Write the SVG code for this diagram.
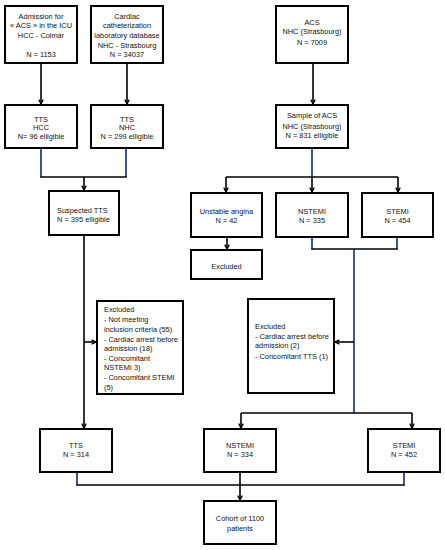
<svg xmlns="http://www.w3.org/2000/svg" width="445" height="550" viewBox="0 0 445 550">
<style>
.box{fill:#fff;stroke:#000;stroke-width:2}
.t{font-family:"Liberation Sans",Arial,sans-serif;font-size:7.4px;fill:#111;text-anchor:middle}
.l{text-anchor:start}
.k{fill:none;stroke:#000;stroke-width:1.6}
.b{fill:none;stroke:#1a2a6c;stroke-width:1.6}
</style>
<defs>
<marker id="ah" viewBox="0 0 10 10" refX="9" refY="5" markerWidth="5.5" markerHeight="5.5" orient="auto" markerUnits="userSpaceOnUse">
<path d="M1,1 L9,5 L1,9" fill="none" stroke="#000" stroke-width="2.4"/>
</marker>
</defs>
<rect width="445" height="550" fill="#fff"/>
<g id="connectors">
<path class="k" d="M41 63 V104" marker-end="url(#ah)"/>
<path class="k" d="M127 63 V104" marker-end="url(#ah)"/>
<path class="b" d="M41 148 V177 M126 148 V177"/>
<path class="k" d="M40.2 177 H126.8"/>
<path class="k" d="M84 177 V190" marker-end="url(#ah)"/>
<path class="k" d="M84 235 V428" marker-end="url(#ah)"/>
<path class="k" d="M84 342 H96" marker-end="url(#ah)"/>
<path class="k" d="M313 63 V104" marker-end="url(#ah)"/>
<path class="b" d="M312 148 V177"/>
<path class="k" d="M226 177 H398"/>
<path class="k" d="M226 177 V192" marker-end="url(#ah)"/>
<path class="k" d="M312 177 V192" marker-end="url(#ah)"/>
<path class="k" d="M398 177 V192" marker-end="url(#ah)"/>
<path class="k" d="M227 237 V249" marker-end="url(#ah)"/>
<path class="b" d="M312 237 V249 M397 237 V249"/>
<path class="k" d="M311.2 249 H397.8"/>
<path class="b" d="M354 249 V413"/>
<path class="k" d="M354 342 H335" marker-end="url(#ah)"/>
<path class="k" d="M241 413 H412"/>
<path class="k" d="M241 413 V428" marker-end="url(#ah)"/>
<path class="k" d="M412 413 V428" marker-end="url(#ah)"/>
<path class="b" d="M77 472 V485 M404 472 V485"/>
<path class="k" d="M76.2 485 H404.8"/>
<path class="k" d="M240 472 V500" marker-end="url(#ah)"/>
</g>
<g id="admission">
<rect class="box" x="5" y="6" width="72" height="57"/>
<text class="t" x="41" y="18.5">Admission for</text>
<text class="t" x="41" y="28.2">« ACS » in the ICU</text>
<text class="t" x="41" y="38.2">HCC - Colmar</text>
<text class="t" x="41" y="57.2">N = 1153</text>
</g>
<g id="cathlab">
<rect class="box" x="91" y="6" width="72" height="57"/>
<text class="t" x="127" y="18.5">Cardiac</text>
<text class="t" x="127" y="28.2">catheterization</text>
<text class="t" x="127" y="38.2">laboratory database</text>
<text class="t" x="127" y="47.8">NHC - Strasbourg</text>
<text class="t" x="127" y="57.2">N = 34037</text>
</g>
<g id="acs">
<rect class="box" x="276" y="6" width="72" height="57"/>
<text class="t" x="312" y="24.5">ACS</text>
<text class="t" x="312" y="34.2">NHC (Strasbourg)</text>
<text class="t" x="312" y="44.8">N = 7009</text>
</g>
<g id="tts-hcc">
<rect class="box" x="5" y="105" width="72" height="43"/>
<text class="t" x="41" y="121.5">TTS</text>
<text class="t" x="41" y="130.2">HCC</text>
<text class="t" x="41" y="139.2">N= 96 elligible</text>
</g>
<g id="tts-nhc">
<rect class="box" x="91" y="105" width="72" height="43"/>
<text class="t" x="127" y="121.5">TTS</text>
<text class="t" x="127" y="130.2">NHC</text>
<text class="t" x="127" y="139.2">N = 299 elligible</text>
</g>
<g id="sample">
<rect class="box" x="276" y="105" width="72" height="43"/>
<text class="t" x="312" y="118.2">Sample of ACS</text>
<text class="t" x="312" y="128.5">NHC (Strasbourg)</text>
<text class="t" x="312" y="137.8">N = 831 elligible</text>
</g>
<g id="suspected">
<rect class="box" x="49" y="191" width="70" height="44"/>
<text class="t l" x="57" y="212.5">Suspected TTS</text>
<text class="t l" x="57" y="221.8">N = 395 elligible</text>
</g>
<g id="unstable">
<rect class="box" x="191" y="193" width="71" height="44"/>
<text class="t" x="226.5" y="213.5">Unstable angina</text>
<text class="t" x="226.5" y="222.5">N = 42</text>
</g>
<g id="nstemi1">
<rect class="box" x="276" y="193" width="72" height="44"/>
<text class="t" x="312" y="213.5">NSTEMI</text>
<text class="t" x="312" y="222.5">N = 335</text>
</g>
<g id="stemi1">
<rect class="box" x="362" y="193" width="71" height="44"/>
<text class="t" x="397.5" y="213.5">STEMI</text>
<text class="t" x="397.5" y="222.5">N = 454</text>
</g>
<g id="excluded-ua">
<rect class="box" x="191" y="250" width="71" height="29"/>
<text class="t" x="226.5" y="268.5">Excluded</text>
</g>
<g id="excluded-left">
<rect class="box" x="97" y="301" width="86" height="93"/>
<text class="t l" x="104" y="311.8">Excluded</text>
<text class="t l" x="104" y="321.5">- Not meeting</text>
<text class="t l" x="104" y="331.5">inclusion criteria (55)</text>
<text class="t l" x="104" y="341.5">- Cardiac arrest before</text>
<text class="t l" x="104" y="350.8">admission (18)</text>
<text class="t l" x="104" y="360.8">- Concomitant</text>
<text class="t l" x="104" y="370.2">NSTEMI 3)</text>
<text class="t l" x="104" y="380.2">- Concomitant STEMI</text>
<text class="t l" x="104" y="389.8">(5)</text>
</g>
<g id="excluded-right">
<rect class="box" x="248" y="299" width="86" height="94"/>
<text class="t l" x="255" y="328.5">Excluded</text>
<text class="t l" x="255" y="339.2">- Cardiac arrest before</text>
<text class="t l" x="255" y="348.2">admission (2)</text>
<text class="t l" x="255" y="358.5">- Concomitant TTS (1)</text>
</g>
<g id="tts">
<rect class="box" x="40" y="429" width="72" height="43"/>
<text class="t" x="76" y="447.5">TTS</text>
<text class="t" x="76" y="456.8">N = 314</text>
</g>
<g id="nstemi2">
<rect class="box" x="204" y="429" width="72" height="43"/>
<text class="t" x="240" y="447.5">NSTEMI</text>
<text class="t" x="240" y="456.8">N = 334</text>
</g>
<g id="stemi2">
<rect class="box" x="368" y="429" width="72" height="43"/>
<text class="t" x="404" y="447.5">STEMI</text>
<text class="t" x="404" y="456.8">N = 452</text>
</g>
<g id="cohort">
<rect class="box" x="204" y="501" width="72" height="43"/>
<text class="t" x="240" y="520.8">Cohort of 1100</text>
<text class="t" x="240" y="530.5">patients</text>
</g>
</svg>
